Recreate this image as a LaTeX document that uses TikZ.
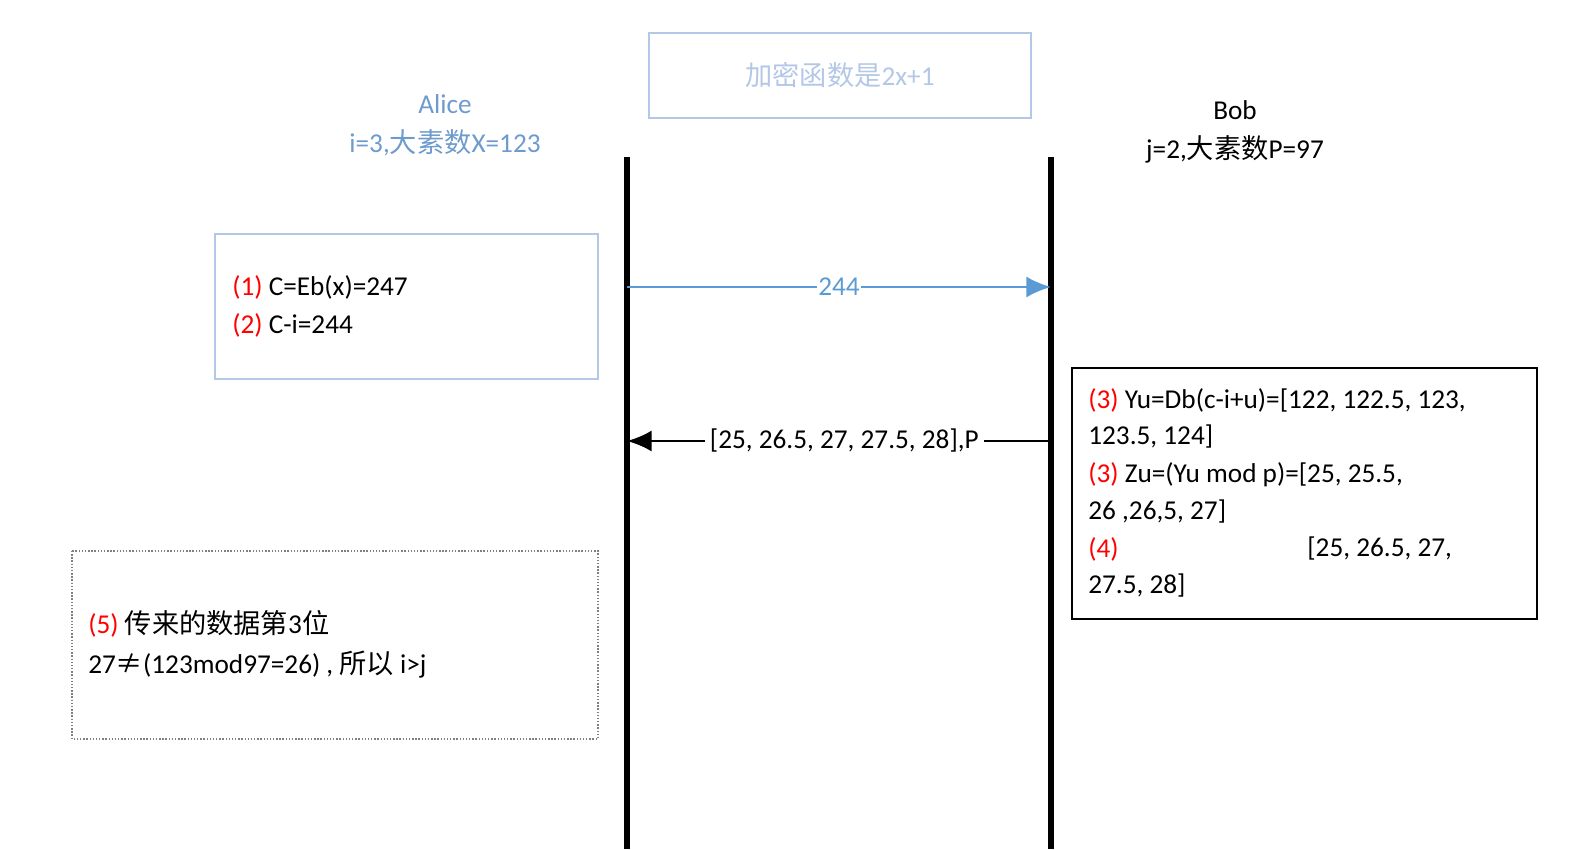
\documentclass[tikz,border=0pt]{standalone}
\usepackage{fontspec}
\usetikzlibrary{arrows.meta}
\setmainfont{Carlito}
\newfontfamily\cjk{Noto Sans CJK SC}
\definecolor{lb}{RGB}{180,199,231}
\definecolor{al}{RGB}{110,155,205}
\definecolor{ar}{RGB}{91,155,213}
\begin{document}
\begin{tikzpicture}[x=0.02cm,y=-0.02cm,
  txt/.style={font=\fontsize{15.5}{21}\selectfont,inner sep=0pt},
  life/.style={line width=3pt}]
\useasboundingbox (0,0) rectangle (1588,849);
\node[draw=lb,line width=1.2pt,minimum width=382*0.02cm,minimum height=85*0.02cm,txt,text=lb] (title) at (840,75.5) {{\cjk 加密函数是}2x+1};
\node[txt,text=al,align=center] (alice) at (445,125) {Alice\\[1pt]i=3,{\cjk 大素数}X=123};
\node[txt,align=center] (bob) at (1235,132) {Bob\\[1pt]j=2,{\cjk 大素数}P=97};
\coordinate (at) at (627,157); \coordinate (ab) at (627,849);
\coordinate (bt) at (1051,157); \coordinate (bb) at (1051,849);
\draw[life] (at) -- (ab); \draw[life] (bt) -- (bb);
\draw[lb,line width=1.2pt] (215,234) rectangle (598,379);
\node[txt,anchor=west] (s1) at (232,287) {\textcolor{red}{(1)} C=Eb(x)=247};
\node[txt,anchor=west] (s2) at (232,325) {\textcolor{red}{(2)} C-i=244};
\coordinate (a1) at (627,287); \coordinate (b1) at (1051,287);
\draw[ar,line width=1.5pt,-{Latex[length=14pt,width=12pt]}] (a1) -- node[txt,fill=white,text=ar,inner xsep=1pt]{244} (b1);
\draw[line width=1.2pt] (1072,368) rectangle (1537,619);
\foreach \y/\t in {400/{\textcolor{red}{(3)} Yu=Db(c-i+u)=[122, 122.5, 123,},437/{123.5, 124]},475/{\textcolor{red}{(3)} Zu=(Yu mod p)=[25, 25.5,},512/{26 ,26,5, 27]},549/{\textcolor{red}{(4)}},586/{27.5, 28]}}
  \node[txt,anchor=west] at (1088,\y) {\t};
\node[txt,anchor=west] (r4) at (1307,549) {[25, 26.5, 27,};
\coordinate (b2) at (1051,441); \coordinate (a2) at (627,441);
\draw[line width=1.5pt,-{Latex[length=14pt,width=12pt]}] (b2) -- node[txt,fill=white,inner xsep=3pt,xshift=3pt]{[25, 26.5, 27, 27.5, 28],P} (a2);
\draw[gray,densely dotted,line width=0.8pt] (72,551) rectangle (598,739);
\node[txt,anchor=west] (s5) at (88,624) {\textcolor{red}{(5)} {\cjk 传来的数据第}3{\cjk 位}};
\node[txt,anchor=west] (s6) at (88,665) {27{\cjk ≠}(123mod97=26) , {\cjk 所以} i>j};
\end{tikzpicture}
\end{document}
